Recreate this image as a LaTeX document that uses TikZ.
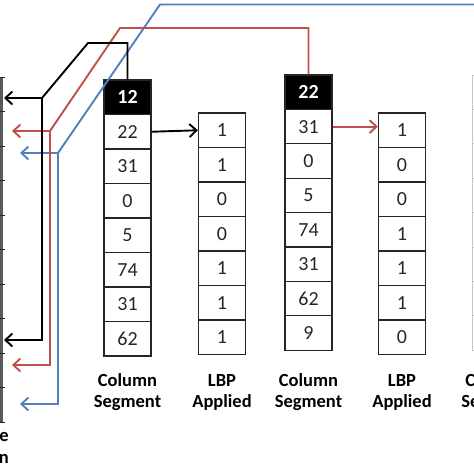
\documentclass[tikz,border=0pt]{standalone}
\usepackage{fontspec}
\setmainfont{Carlito}
\usetikzlibrary{arrows.meta}
\definecolor{offred}{HTML}{C0504D}
\definecolor{offblue}{HTML}{4F81BD}
\tikzset{
  cell/.style={draw=black!85, line width=1.3pt, minimum width=47pt, minimum height=34.5pt,
    inner sep=0pt, font=\fontsize{20}{22}\selectfont, text=black!85},
  headcell/.style={cell, fill=black, text=white, font=\fontsize{20}{22}\selectfont\bfseries},
  fadecell/.style={draw=black!22, line width=1pt, minimum width=47pt, minimum height=34.4pt, inner sep=0pt},
  lbl/.style={font=\fontsize{18.5}{21}\selectfont\bfseries, align=center, text=black},
  conn/.style={line width=1.9pt, line join=miter},
  tip/.style={-{Straight Barb[length=7pt,width=13pt,line width=1.9pt]}},
}
\begin{document}
\begin{tikzpicture}[x=1pt,y=-1pt]
\useasboundingbox (0,0) rectangle (474,474);
\clip (0,0) rectangle (474,474);
\fill[white] (0,0) rectangle (474,474);

% left partial column strip
\fill[black!65] (0,77) rectangle (3,422);
\foreach \k in {0,...,10} \draw[black!85, line width=1pt] (0,77+34.5*\k) -- (5,77+34.5*\k);
\node[lbl, anchor=east, inner sep=0pt] (le) at (9,437) {e};
\node[lbl, anchor=east, inner sep=0pt] (ln) at (9,459) {n};

% right partial column
\foreach \i in {0,...,7} \node[fadecell] (c3-\i) at (495.5,75+17.2+34.4*\i) {};
\node[lbl] (l3) at (495,392) {Column\\Segment};

% column segment 1
\node[headcell] (c1-0) at (127.5,97.25) {12};
\foreach \v [count=\i] in {22,31,0,5,74,31,62}
  \node[cell] (c1-\i) at (127.5,97.25+34.5*\i) {\v};
% LBP 1
\foreach \v [count=\i] in {1,1,0,0,1,1,1}
  \node[cell] (b1-\i) at (222,113+17.25+34.5*\i-34.5) {\v};
% column segment 2
\node[headcell, minimum height=34.4pt] (c2-0) at (308.5,92.2) {22};
\foreach \v [count=\i] in {31,0,5,74,31,62,9}
  \node[cell, minimum height=34.4pt] (c2-\i) at (308.5,92.2+34.4*\i) {\v};
% LBP 2
\foreach \v [count=\i] in {1,0,0,1,1,1,0}
  \node[cell] (b2-\i) at (402,113+17.25+34.5*\i-34.5) {\v};

% labels
\node[lbl] (l1) at (127.5,392) {Column\\Segment};
\node[lbl] (l2) at (222,392) {LBP\\Applied};
\node[lbl] (l4) at (308.5,392) {Column\\Segment};
\node[lbl] (l5) at (402,392) {LBP\\Applied};

% horizontal arrows to LBP
\draw[conn, tip, black] (c1-1.east) -- (b1-1.west);
\draw[conn, tip, offred] (c2-1.east) -- (b2-1.west |- c2-1.east);

% bend coordinates
\coordinate (k1) at (127.5,43);
\coordinate (k2) at (88,43);
\coordinate (k3) at (42,98);
\coordinate (k4) at (42,340);
\coordinate (kt1) at (4,98);
\coordinate (kt2) at (4,340);
\coordinate (r1) at (308.5,28);
\coordinate (r2) at (120,28);
\coordinate (r3) at (50,131);
\coordinate (r4) at (50,365);
\coordinate (rt1) at (12,131);
\coordinate (rt2) at (12,365);
\coordinate (s0) at (480,4.5);
\coordinate (s2) at (160,4.5);
\coordinate (s3) at (58,153);
\coordinate (s4) at (58,404);
\coordinate (st1) at (20,153);
\coordinate (st2) at (20,404);

% blue connector
\draw[conn, tip, offblue] (s0) -- (s2) -- (s3) -- (st1);
\draw[conn, tip, offblue] (s3) -- (s4) -- (st2);
% red connector
\draw[conn, tip, offred] (c2-0.north) -- (r1) -- (r2) -- (r3) -- (rt1);
\draw[conn, tip, offred] (r3) -- (r4) -- (rt2);
% black connector
\draw[conn, tip, black] (c1-0.north) -- (k1) -- (k2) -- (k3) -- (kt1);
\draw[conn, tip, black] (k3) -- (k4) -- (kt2);
\end{tikzpicture}
\end{document}
